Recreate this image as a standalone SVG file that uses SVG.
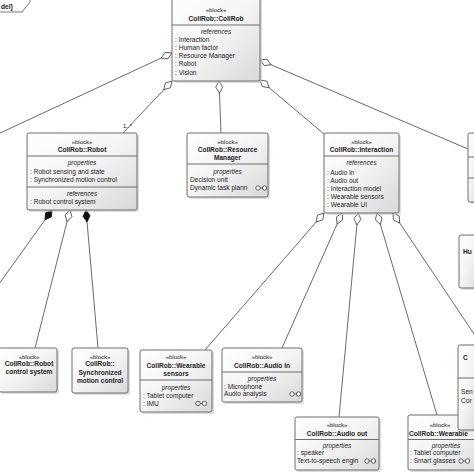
<svg xmlns="http://www.w3.org/2000/svg" width="474" height="474" viewBox="0 0 474 474">
<defs>
<linearGradient id="g" x1="0" y1="0" x2="1" y2="1">
<stop offset="0" stop-color="#ffffff"/>
<stop offset="0.5" stop-color="#f4f4f4"/>
<stop offset="1" stop-color="#d8d8d8"/>
</linearGradient>
<marker id="dh" markerUnits="userSpaceOnUse" markerWidth="14" markerHeight="10" refX="0" refY="4" orient="auto" viewBox="-1 0 14 8" overflow="visible">
<path d="M0,4 L6,0.5 L12,4 L6,7.5 Z" fill="#fff" stroke="#444" stroke-width="0.8"/>
</marker>
<marker id="df" markerUnits="userSpaceOnUse" markerWidth="14" markerHeight="10" refX="0" refY="4" orient="auto" viewBox="-1 0 14 8" overflow="visible">
<path d="M0,4 L6,0.5 L12,4 L6,7.5 Z" fill="#111" stroke="#111" stroke-width="0.8"/>
</marker>
</defs>
<style>
.box{fill:url(#g);stroke:#6e6e6e;stroke-width:1}
.sh{fill:#c8c8c8;opacity:0.6}
.div{stroke:#6e6e6e;stroke-width:1}
text{font-family:"Liberation Sans",Arial,sans-serif;fill:#222}
.st{font-size:6px;text-anchor:middle}
.nm{font-size:6.6px;font-weight:bold;text-anchor:middle}
.cp{font-size:6.4px;font-style:italic;text-anchor:middle}
.it{font-size:6.6px}
.c{fill:none;stroke:#444;stroke-width:0.8}
.ring{fill:#fff;stroke:#333;stroke-width:0.8}
</style>

<g id="frame">
<path d="M-1,12 H22 L30,2 V-1" fill="none" stroke="#555" stroke-width="0.8"/>
<text x="1" y="9" style="font-size:6.6px;font-weight:bold">del]</text>
</g>

<g id="connectors">
<line class="c" x1="172" y1="53" x2="-2" y2="134" marker-start="url(#dh)"/>
<line class="c" x1="172" y1="81" x2="123" y2="133" marker-start="url(#dh)"/>
<line class="c" x1="219" y1="81" x2="221" y2="133" marker-start="url(#dh)"/>
<line class="c" x1="260" y1="80" x2="324" y2="134" marker-start="url(#dh)"/>
<line class="c" x1="260" y1="60" x2="468" y2="149" marker-start="url(#dh)"/>
<line class="c" x1="52" y1="210" x2="-1" y2="284" marker-start="url(#df)"/>
<line class="c" x1="70" y1="210" x2="35" y2="348" marker-start="url(#dh)"/>
<line class="c" x1="86" y1="210" x2="98" y2="348" marker-start="url(#df)"/>
<line class="c" x1="324" y1="213" x2="205" y2="350" marker-start="url(#dh)"/>
<line class="c" x1="342" y1="213" x2="282" y2="348" marker-start="url(#dh)"/>
<line class="c" x1="358" y1="213" x2="339" y2="417" marker-start="url(#dh)"/>
<line class="c" x1="377" y1="213" x2="437" y2="415" marker-start="url(#dh)"/>
<line class="c" x1="393" y1="213" x2="480" y2="343" marker-start="url(#dh)"/>
<text x="123" y="128" style="font-size:6px">1..*</text>
</g>

<g id="collrob">
<rect class="sh" x="174" y="-1" width="88" height="84" rx="2"/>
<rect class="box" x="172" y="-3" width="88" height="84" rx="2"/>
<text class="st" x="216" y="12">«block»</text>
<text class="nm" x="216" y="21">CollRob::CollRob</text>
<line class="div" x1="172" y1="25" x2="260" y2="25"/>
<text class="cp" x="216" y="34">references</text>
<text class="it" x="175" y="41.5">: Interaction</text>
<text class="it" x="175" y="49.8">: Human factor</text>
<text class="it" x="175" y="58">: Resource Manager</text>
<text class="it" x="175" y="66.3">: Robot</text>
<text class="it" x="175" y="74.5">: Vision</text>
</g>

<g id="robot">
<rect class="sh" x="29" y="135" width="110" height="77" rx="2"/>
<rect class="box" x="27" y="133" width="110" height="77" rx="2"/>
<text class="st" x="82" y="144">«block»</text>
<text class="nm" x="82" y="152">CollRob::Robot</text>
<line class="div" x1="27" y1="156" x2="137" y2="156"/>
<text class="cp" x="82" y="165">properties</text>
<text class="it" x="30" y="173.5">: Robot sensing and state</text>
<text class="it" x="30" y="182">: Synchronized motion control</text>
<line class="div" x1="27" y1="187" x2="137" y2="187"/>
<text class="cp" x="82" y="196">references</text>
<text class="it" x="30" y="204">: Robot control system</text>
</g>

<g id="resource">
<rect class="sh" x="189" y="135" width="81" height="64" rx="2"/>
<rect class="box" x="187" y="133" width="81" height="64" rx="2"/>
<text class="st" x="227.5" y="144">«block»</text>
<text class="nm" x="227.5" y="152">CollRob::Resource</text>
<text class="nm" x="227.5" y="160">Manager</text>
<line class="div" x1="187" y1="164" x2="268" y2="164"/>
<text class="cp" x="227.5" y="174">properties</text>
<text class="it" x="190" y="181.5">Decision unit</text>
<text class="it" x="190" y="190">Dynamic task plann</text>
<line class="c" x1="258" y1="188" x2="264" y2="188"/>
<circle class="ring" cx="258" cy="188" r="2.2"/>
<circle class="ring" cx="264.5" cy="188" r="2.2"/>
</g>

<g id="interaction">
<rect class="sh" x="326" y="135" width="75" height="80" rx="2"/>
<rect class="box" x="324" y="133" width="75" height="80" rx="2"/>
<text class="st" x="361.5" y="143.5">«block»</text>
<text class="nm" x="361.5" y="151.5">CollRob::Interaction</text>
<line class="div" x1="324" y1="156" x2="399" y2="156"/>
<text class="cp" x="361.5" y="165">references</text>
<text class="it" x="327" y="174.5">: Audio In</text>
<text class="it" x="327" y="182.5">: Audio out</text>
<text class="it" x="327" y="190.5">: Interaction model</text>
<text class="it" x="327" y="198.5">: Wearable sensors</text>
<text class="it" x="327" y="206.5">: Wearable UI</text>
</g>

<g id="right-top">
<rect class="sh" x="470" y="135" width="12" height="69" rx="2"/>
<rect class="box" x="468" y="133" width="12" height="69" rx="2"/>
<line class="div" x1="468" y1="157" x2="480" y2="157"/>
<line class="div" x1="468" y1="178" x2="480" y2="178"/>
</g>

<g id="human">
<rect class="sh" x="461" y="237" width="21" height="53" rx="2"/>
<rect class="box" x="459" y="235" width="21" height="53" rx="2"/>
<text x="463" y="254" style="font-size:6.6px;font-weight:bold">Hu</text>
</g>

<g id="robot-control">
<rect class="sh" x="1" y="350" width="58" height="44" rx="2"/>
<rect class="box" x="-1" y="348" width="58" height="44" rx="2"/>
<text class="st" x="29" y="358.5">«block»</text>
<text class="nm" x="29" y="366">CollRob::Robot</text>
<text class="nm" x="29" y="374">control system</text>
</g>

<g id="sync">
<rect class="sh" x="74" y="350" width="56" height="45" rx="2"/>
<rect class="box" x="72" y="348" width="56" height="45" rx="2"/>
<text class="st" x="100" y="358.5">«block»</text>
<text class="nm" x="100" y="366">CollRob::</text>
<text class="nm" x="100" y="374.5">Synchronized</text>
<text class="nm" x="100" y="383">motion control</text>
</g>

<g id="wearable-sensors">
<rect class="sh" x="142" y="352" width="72" height="62" rx="2"/>
<rect class="box" x="140" y="350" width="72" height="62" rx="2"/>
<text class="st" x="176" y="358.5">«block»</text>
<text class="nm" x="176" y="367.5">CollRob::Wearable</text>
<text class="nm" x="176" y="375.5">sensors</text>
<line class="div" x1="140" y1="380" x2="212" y2="380"/>
<text class="cp" x="176" y="390">properties</text>
<text class="it" x="143" y="397.5">: Tablet computer</text>
<text class="it" x="143" y="405.5">: IMU</text>
<line class="c" x1="198" y1="403.5" x2="205" y2="403.5"/>
<circle class="ring" cx="198" cy="403.5" r="2.2"/>
<circle class="ring" cx="204.5" cy="403.5" r="2.2"/>
</g>

<g id="audio-in">
<rect class="sh" x="224" y="350" width="80" height="54" rx="2"/>
<rect class="box" x="222" y="348" width="80" height="54" rx="2"/>
<text class="st" x="262" y="358.5">«block»</text>
<text class="nm" x="262" y="367.5">CollRob::Audio In</text>
<line class="div" x1="222" y1="372" x2="302" y2="372"/>
<text class="cp" x="262" y="380.5">properties</text>
<text class="it" x="224" y="388.5">: Microphone</text>
<text class="it" x="224" y="396">Audio analysis</text>
<line class="c" x1="292" y1="394" x2="298" y2="394"/>
<circle class="ring" cx="292" cy="394" r="2.2"/>
<circle class="ring" cx="298.5" cy="394" r="2.2"/>
</g>

<g id="audio-out">
<rect class="sh" x="297" y="419" width="84" height="53" rx="2"/>
<rect class="box" x="295" y="417" width="84" height="53" rx="2"/>
<text class="st" x="337" y="426.5">«block»</text>
<text class="nm" x="337" y="435.5">CollRob::Audio out</text>
<line class="div" x1="295" y1="439.5" x2="379" y2="439.5"/>
<text class="cp" x="337" y="447.5">properties</text>
<text class="it" x="297" y="455">: speaker</text>
<text class="it" x="297" y="463">Text-to-speech engin</text>
<line class="c" x1="367" y1="461" x2="374" y2="461"/>
<circle class="ring" cx="367" cy="461" r="2.2"/>
<circle class="ring" cx="373.5" cy="461" r="2.2"/>
</g>

<g id="wearable-ui">
<rect class="sh" x="410" y="417" width="80" height="55" rx="2"/>
<rect class="box" x="408" y="415" width="80" height="55" rx="2"/>
<text class="st" x="440" y="426.5">«block»</text>
<text x="409" y="435.5" style="font-size:6.6px;font-weight:bold">CollRob::Wearable</text>
<line class="div" x1="408" y1="439.5" x2="480" y2="439.5"/>
<text class="cp" x="446" y="447.5">properties</text>
<text class="it" x="410" y="455">: Tablet computer</text>
<text class="it" x="410" y="463">: Smart glasses</text>
<line class="c" x1="461" y1="461" x2="468" y2="461"/>
<circle class="ring" cx="461" cy="461" r="2.2"/>
<circle class="ring" cx="467.5" cy="461" r="2.2"/>
</g>

<g id="right-bottom">
<rect class="sh" x="460" y="347" width="22" height="85" rx="2"/>
<rect class="box" x="458" y="345" width="22" height="85" rx="2"/>
<text x="463" y="360" style="font-size:6.6px;font-weight:bold">C</text>
<line class="div" x1="458" y1="378" x2="480" y2="378"/>
<text class="it" x="461" y="394">Sen</text>
<text class="it" x="461" y="403">Cor</text>
</g>
</svg>
